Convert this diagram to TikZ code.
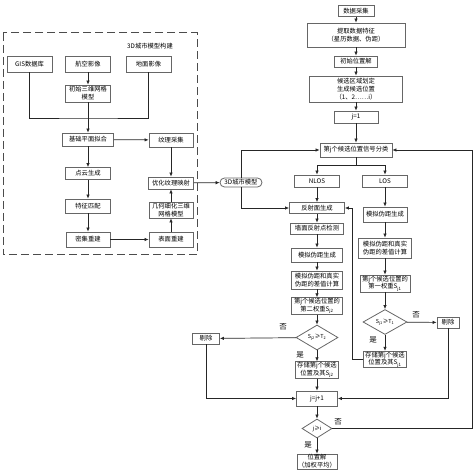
\documentclass[tikz,border=0pt]{standalone}
\usepackage{fontspec}
\setmainfont{Noto Sans CJK SC}
\usepackage{amsmath}
\usepackage{amssymb}
\usetikzlibrary{shapes.geometric,arrows.meta}

\begin{document}
\begin{tikzpicture}
  [x=1pt,y=-1pt,>={Latex[length=4pt,width=3.5pt]},
   font=\fontsize{6.3}{7.8}\selectfont,
   box/.style={draw=black!60,line width=0.8pt,align=center,inner sep=0.5pt},
   dec/.style={diamond,draw=black!60,line width=0.8pt,inner sep=0pt,font=\fontsize{5.5}{6}\selectfont},
   lnk/.style={->,draw=black!85,line width=0.7pt},
   lbl/.style={font=\fontsize{7.5}{9}\selectfont}]

  \useasboundingbox (0,0) rectangle (474,473);
  \draw[draw=black!70,line width=1pt,dash pattern=on 8pt off 4pt] (3,33) rectangle (197,255);
  \node (n0) at (150,46) {3D城市模型构建};

  \node[box,minimum width=45,minimum height=16] (n1) at (29.5,64) {GIS数据库};
  \node[box,minimum width=45,minimum height=16] (n2) at (88,64) {航空影像};
  \node[box,minimum width=45,minimum height=16] (n3) at (148.5,64) {地面影像};
  \node[box,minimum width=45,minimum height=17] (n4) at (88,93.5) {初始三维网格\\模型};
  \node[box,minimum width=51,minimum height=13] (n5) at (88,139.5) {基础平面拟合};
  \node[box,minimum width=44,minimum height=14] (n6) at (171,140) {纹理采集};
  \node[box,minimum width=45,minimum height=12] (n7) at (88,173.5) {点云生成};
  \node[box,minimum width=45,minimum height=14] (n8) at (88,206) {特征匹配};
  \node[box,minimum width=44,minimum height=15] (n9) at (88,239.5) {密集重建};
  \node[box,minimum width=44,minimum height=15] (n10) at (171,239.5) {表面重建};
  \node[box,minimum width=44,minimum height=16] (n11) at (171,210) {几何细化三维\\网格模型};
  \node[box,minimum width=45,minimum height=12] (n12) at (171,183) {优化纹理映射};
  \node[box,rounded corners=4.5pt,minimum width=42,minimum height=9] (n13) at (241,182.5) {3D城市模型};

  \node[box,minimum width=36,minimum height=11] (n14) at (356,11) {数据采集};
  \node[box,minimum width=98,minimum height=24] (n15) at (356,35) {提取数据特征\\（星历数据、伪距）};
  \node[box,minimum width=43,minimum height=11] (n16) at (356,61.5) {初始位置解};
  \node[box,minimum width=93,minimum height=26] (n17) at (356,89) {候选区域划定\\生成候选位置\\（1、2……i）};
  \node[box,minimum width=44,minimum height=12] (n18) at (356,117) {j=1};
  \node[box,minimum width=72,minimum height=14] (n19) at (356,150) {第j个候选位置信号分类};
  \node[box,minimum width=45,minimum height=12] (n20) at (317,181) {NLOS};
  \node[box,minimum width=45,minimum height=12] (n21) at (385,181) {LOS};

  \node[box,minimum width=55,minimum height=11] (n22) at (317,208) {反射面生成};
  \node[box,minimum width=53,minimum height=11] (n23) at (317,228.5) {墙面反射点检测};
  \node[box,minimum width=51,minimum height=14] (n24) at (317,255) {模拟伪距生成};
  \node[box,minimum width=51,minimum height=18] (n25) at (317,280) {模拟伪距和真实\\伪距的差值计算};
  \node[box,minimum width=51,minimum height=14] (n26) at (317,306) {第j个候选位置的\\第二权重S\textsubscript{j2}};
  \node[dec,minimum width=42,minimum height=25] (n27) at (317,337.5) {S\textsubscript{j2}≥T\textsubscript{2}};
  \node[box,minimum width=27,minimum height=11] (n28) at (206,338.5) {剔除};
  \node[box,minimum width=43,minimum height=16] (n29) at (317,370) {存储第j个候选\\位置及其S\textsubscript{j2}};
  \node[box,minimum width=41,minimum height=15] (n30) at (317,398.5) {j=j+1};
  \node[dec,minimum width=30,minimum height=19] (n31) at (317,428.5) {j≥i};
  \node[box,minimum width=40,minimum height=15] (n32) at (317,461.5) {位置解\\（加权平均）};

  \node[box,minimum width=44,minimum height=15] (n33) at (385,214.5) {模拟伪距生成};
  \node[box,minimum width=53,minimum height=20] (n34) at (385,248) {模拟伪距和真实\\伪距的差值计算};
  \node[box,minimum width=50,minimum height=17] (n35) at (385,283.5) {第j个候选位置的\\第一权重S\textsubscript{j1}};
  \node[dec,minimum width=44,minimum height=24] (n36) at (385,322) {S\textsubscript{j1}≥T\textsubscript{1}};
  \node[box,minimum width=22,minimum height=11] (n37) at (448,322.5) {剔除};
  \node[box,minimum width=43,minimum height=16] (n38) at (385,359.5) {存储第j个候选\\位置及其S\textsubscript{j1}};

  \node[lbl] (t1) at (283,327) {否};
  \node[lbl] (t2) at (300,355) {是};
  \node[lbl] (t3) at (416,315) {否};
  \node[lbl] (t4) at (373,340) {是};
  \node[lbl] (t5) at (338,422) {否};
  \node[lbl] (t6) at (308,445) {是};

  \coordinate (c1) at (88,118);
  \coordinate (c2) at (356,165);
  \coordinate (c3) at (472,428.5);
  \coordinate (c4) at (352,359.5);

  \foreach \from/\to in {n2/n4,n4/n5,n5/n6,n5/n7,n7/n8,n8/n9,n9/n10,n10/n11,n11/n12,n6/n12,n12/n13,n14/n15,n15/n16,n16/n17,n17/n18,n18/n19,n20/n22,n22/n23,n23/n24,n24/n25,n25/n26,n26/n27,n27/n28,n27/n29,n29/n30,n30/n31,n31/n32,n21/n33,n33/n34,n34/n35,n35/n36,n36/n37,n36/n38}
    \draw[lnk] (\from) -- (\to);
  \draw[draw=black!85,line width=0.7pt] (n1) |- (c1) -| (n3);
  \draw[lnk] (n13) |- (n19);
  \draw[lnk] (n13) |- (n22);
  \draw[lnk] (n19) -- (c2) -| (n20);
  \draw[lnk] (c2) -| (n21);
  \draw[lnk] (n28) |- (n30);
  \draw[lnk] (n37) |- (n30);
  \draw[lnk] (n31) -- (c3) |- (n19);
  \draw[lnk] (n38) -- (c4) |- (n22);
\end{tikzpicture}
\end{document}
